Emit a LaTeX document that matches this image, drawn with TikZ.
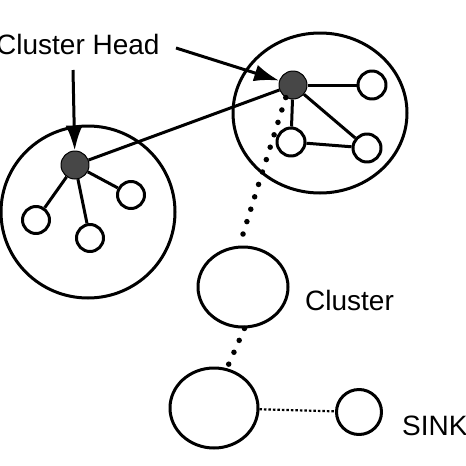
\documentclass[tikz,border=0pt]{standalone}
\usepackage{fontspec}
\setmainfont{Liberation Sans}
\usetikzlibrary{shapes.geometric,arrows.meta}
\begin{document}
\def\mylw{3pt}
\def\myfont{\fontsize{28}{30}\selectfont}
\begin{tikzpicture}[x=1pt, y=-1pt, line join=bevel,
>={Latex[length=25pt,width=17pt]},
font=\myfont,
small/.style={draw, circle, line width=\mylw, minimum size=25pt, inner sep=0pt},
head/.style={circle, fill=black!72, draw=black, line width=1pt, minimum size=28pt, inner sep=0pt},
blob/.style={draw, ellipse, line width=\mylw, inner sep=0pt},
label/.style={inner sep=0pt},
bigdots/.style={line width=5.5pt, line cap=round, dash pattern=on 0pt off 13pt},
finedots/.style={line width=2.2pt, dash pattern=on 2.5pt off 2pt},
]
\useasboundingbox (0,0) rectangle (466,466);
% clusters
\node[blob, minimum width=174pt, minimum height=172pt](cl) at (88,212) {};
\node[blob, minimum width=174pt, minimum height=160pt](cr) at (320,113) {};
\node[blob, minimum width=90pt, minimum height=80pt](cm) at (243,287) {};
\node[blob, minimum width=88pt, minimum height=80pt](cb) at (214,408) {};
\node[small, minimum size=45pt](sink) at (359,412) {};
% left cluster
\node[head](hl) at (75,165) {};
\node[small, minimum width=24pt, minimum height=27pt](l1) at (36,220) {};
\node[small, minimum width=24pt, minimum height=27pt](l2) at (90,238) {};
\node[small, minimum width=24pt, minimum height=27pt](l3) at (131,195) {};
% right cluster
\node[head](hr) at (293,85) {};
\node[small, minimum width=26pt, minimum height=28pt](r1) at (372,85) {};
\node[small, minimum width=26pt, minimum height=28pt](r2) at (291,142) {};
\node[small, minimum width=26pt, minimum height=28pt](r3) at (367,148) {};
% texts
\node[label, anchor=base west](t) at (-4,54) {Cluster Head};
\node[label, anchor=base west](tc) at (305,310) {Cluster};
\node[label, anchor=base west](ts) at (402,435) {SINK};
\coordinate (a1) at (73,70);
\coordinate (a2) at (176,48);

\draw[line width=\mylw] (hl) -- (l1);
\draw[line width=\mylw] (hl) -- (l2);
\draw[line width=\mylw] (hl) -- (l3);
\draw[line width=\mylw] (hr) -- (r1);
\draw[line width=\mylw] (hr) -- (r2);
\draw[line width=\mylw] (hr) -- (r3);
\draw[line width=\mylw] (r2) -- (r3);
\draw[line width=\mylw] (hl) -- (hr);

\draw[->, line width=\mylw] (a1) -- (hl);
\draw[->, line width=\mylw] (a2) -- (hr);

\draw[bigdots] (hr.240) -- (cm.95);
\draw[bigdots] (cm.272) -- (cb.72);
\draw[finedots] (cb) -- (sink);
\end{tikzpicture}
\end{document}
